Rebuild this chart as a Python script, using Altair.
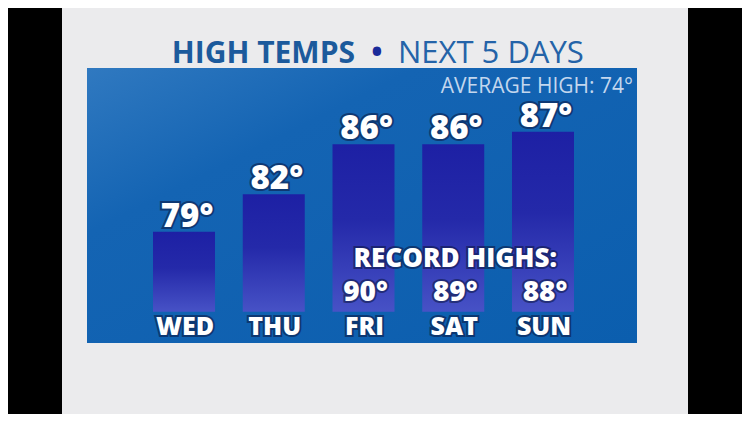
import altair as alt
import pandas as pd

# ---- data ----
days = ["WED", "THU", "FRI", "SAT", "SUN"]
highs = [79, 82, 86, 86, 87]
record_days = ["FRI", "SAT", "SUN"]
record_highs = [90, 89, 88]
title_bold = "HIGH TEMPS"
title_dot = "•"
title_rest = "NEXT 5 DAYS"
avg_label = "AVERAGE HIGH: 74°"
record_title = "RECORD HIGHS:"
record_title_day = "SAT"

FONT = "Open Sans"
BASE = 72.6  # bar base level (deg)

df = pd.DataFrame({"day": days, "high": highs,
                   "label": [f"{v}°" for v in highs]})
rec = pd.DataFrame({"day": record_days, "rec": record_highs,
                    "label": [f"{v}°" for v in record_highs]})
one = pd.DataFrame({"day": [record_title_day], "label": [record_title]})

xs = alt.Scale(domain=days, range=[66, 487], paddingInner=0.309, paddingOuter=0)
ys = alt.Scale(domain=[70.1, 92.1], zero=False, nice=False)

X = alt.X("day:N", scale=xs, axis=None)

bar_grad = alt.LinearGradient(
    gradient="linear", x1=0, y1=0, x2=0, y2=1,
    stops=[alt.GradientStop(color="#1d20a4", offset=0),
           alt.GradientStop(color="#2429a9", offset=0.45),
           alt.GradientStop(color="#4752c6", offset=1)])

panel_grad = alt.LinearGradient(
    gradient="linear", x1=0, y1=0, x2=1, y2=1,
    stops=[alt.GradientStop(color="#3079c0", offset=0),
           alt.GradientStop(color="#1464b3", offset=0.3),
           alt.GradientStop(color="#0b5eae", offset=1)])

bars = alt.Chart(df).mark_bar(color=bar_grad).encode(
    x=X,
    y=alt.Y("high:Q", scale=ys, axis=None),
    y2=alt.datum(BASE),
)

def outlined(chart_base, enc, size, dx=0, dy=0, baseline="alphabetic"):
    shadow = chart_base.mark_text(font=FONT, fontWeight=800, fontSize=size,
                                  color="#0b1640", stroke="#0b1640", strokeWidth=4,
                                  opacity=0.55, dx=dx, dy=dy,
                                  baseline=baseline).encode(**enc)
    front = chart_base.mark_text(font=FONT, fontWeight=800, fontSize=size,
                                 color="white", dx=dx, dy=dy,
                                 baseline=baseline).encode(**enc)
    return [shadow, front]

val_layers = outlined(alt.Chart(df),
                      dict(x=X, y=alt.Y("high:Q", scale=ys), text="label:N"),
                      33, dx=3, dy=-5)
day_layers = outlined(alt.Chart(df),
                      dict(x=X, y=alt.datum(71.4), text="day:N"),
                      25, dx=1, baseline="middle")
rec_layers = outlined(alt.Chart(rec),
                      dict(x=X, y=alt.datum(74.1), text="label:N"),
                      28, dx=2, baseline="middle")
rec_title_layers = outlined(alt.Chart(one),
                            dict(x=X, y=alt.datum(76.85), text="label:N"),
                            26, dx=2, baseline="middle")

tdf = pd.DataFrame({"a": [title_bold], "b": [title_dot], "c": [title_rest], "d": [avg_label]})
tb = alt.Chart(tdf).mark_text(font=FONT, fontWeight="bold", fontSize=30,
                              color="#1c5a9c", align="right",
                              baseline="alphabetic").encode(
    x=alt.value(268), y=alt.value(-5), text="a:N")
td = alt.Chart(tdf).mark_text(font=FONT, fontWeight="bold", fontSize=30,
                              color="#1a2b9a", align="center",
                              baseline="alphabetic").encode(
    x=alt.value(290), y=alt.value(-6), text="b:N")
tr = alt.Chart(tdf).mark_text(font=FONT, fontSize=31, color="#2463a8",
                              align="left", baseline="alphabetic").encode(
    x=alt.value(311), y=alt.value(-5), text="c:N")
avg = alt.Chart(tdf).mark_text(font=FONT, fontSize=21, color="#c3d7ee",
                               align="right", baseline="alphabetic").encode(
    x=alt.value(546), y=alt.value(25), text="d:N")

left_bar = alt.Chart(tdf).mark_rect(color="black").encode(
    x=alt.value(-79), x2=alt.value(-25), y=alt.value(-60), y2=alt.value(346))
right_bar = alt.Chart(tdf).mark_rect(color="black").encode(
    x=alt.value(601), x2=alt.value(655), y=alt.value(-60), y2=alt.value(346))
panel = alt.Chart(tdf).mark_rect(color=panel_grad).encode(
    x=alt.value(0), x2=alt.value(550), y=alt.value(0), y2=alt.value(275))

chart = alt.layer(
    left_bar, right_bar, panel, bars,
    *val_layers, *day_layers, *rec_title_layers, *rec_layers,
    tb, td, tr, avg,
).properties(
    width=550, height=275,
    padding={"left": 79, "top": 60, "right": 105, "bottom": 71},
    autosize="none",
    background="#ebebed",
).configure_view(
    fill="#0d60b0", stroke=None,
)

chart.save("out.html", embed_options={"renderer": "svg", "actions": False})
